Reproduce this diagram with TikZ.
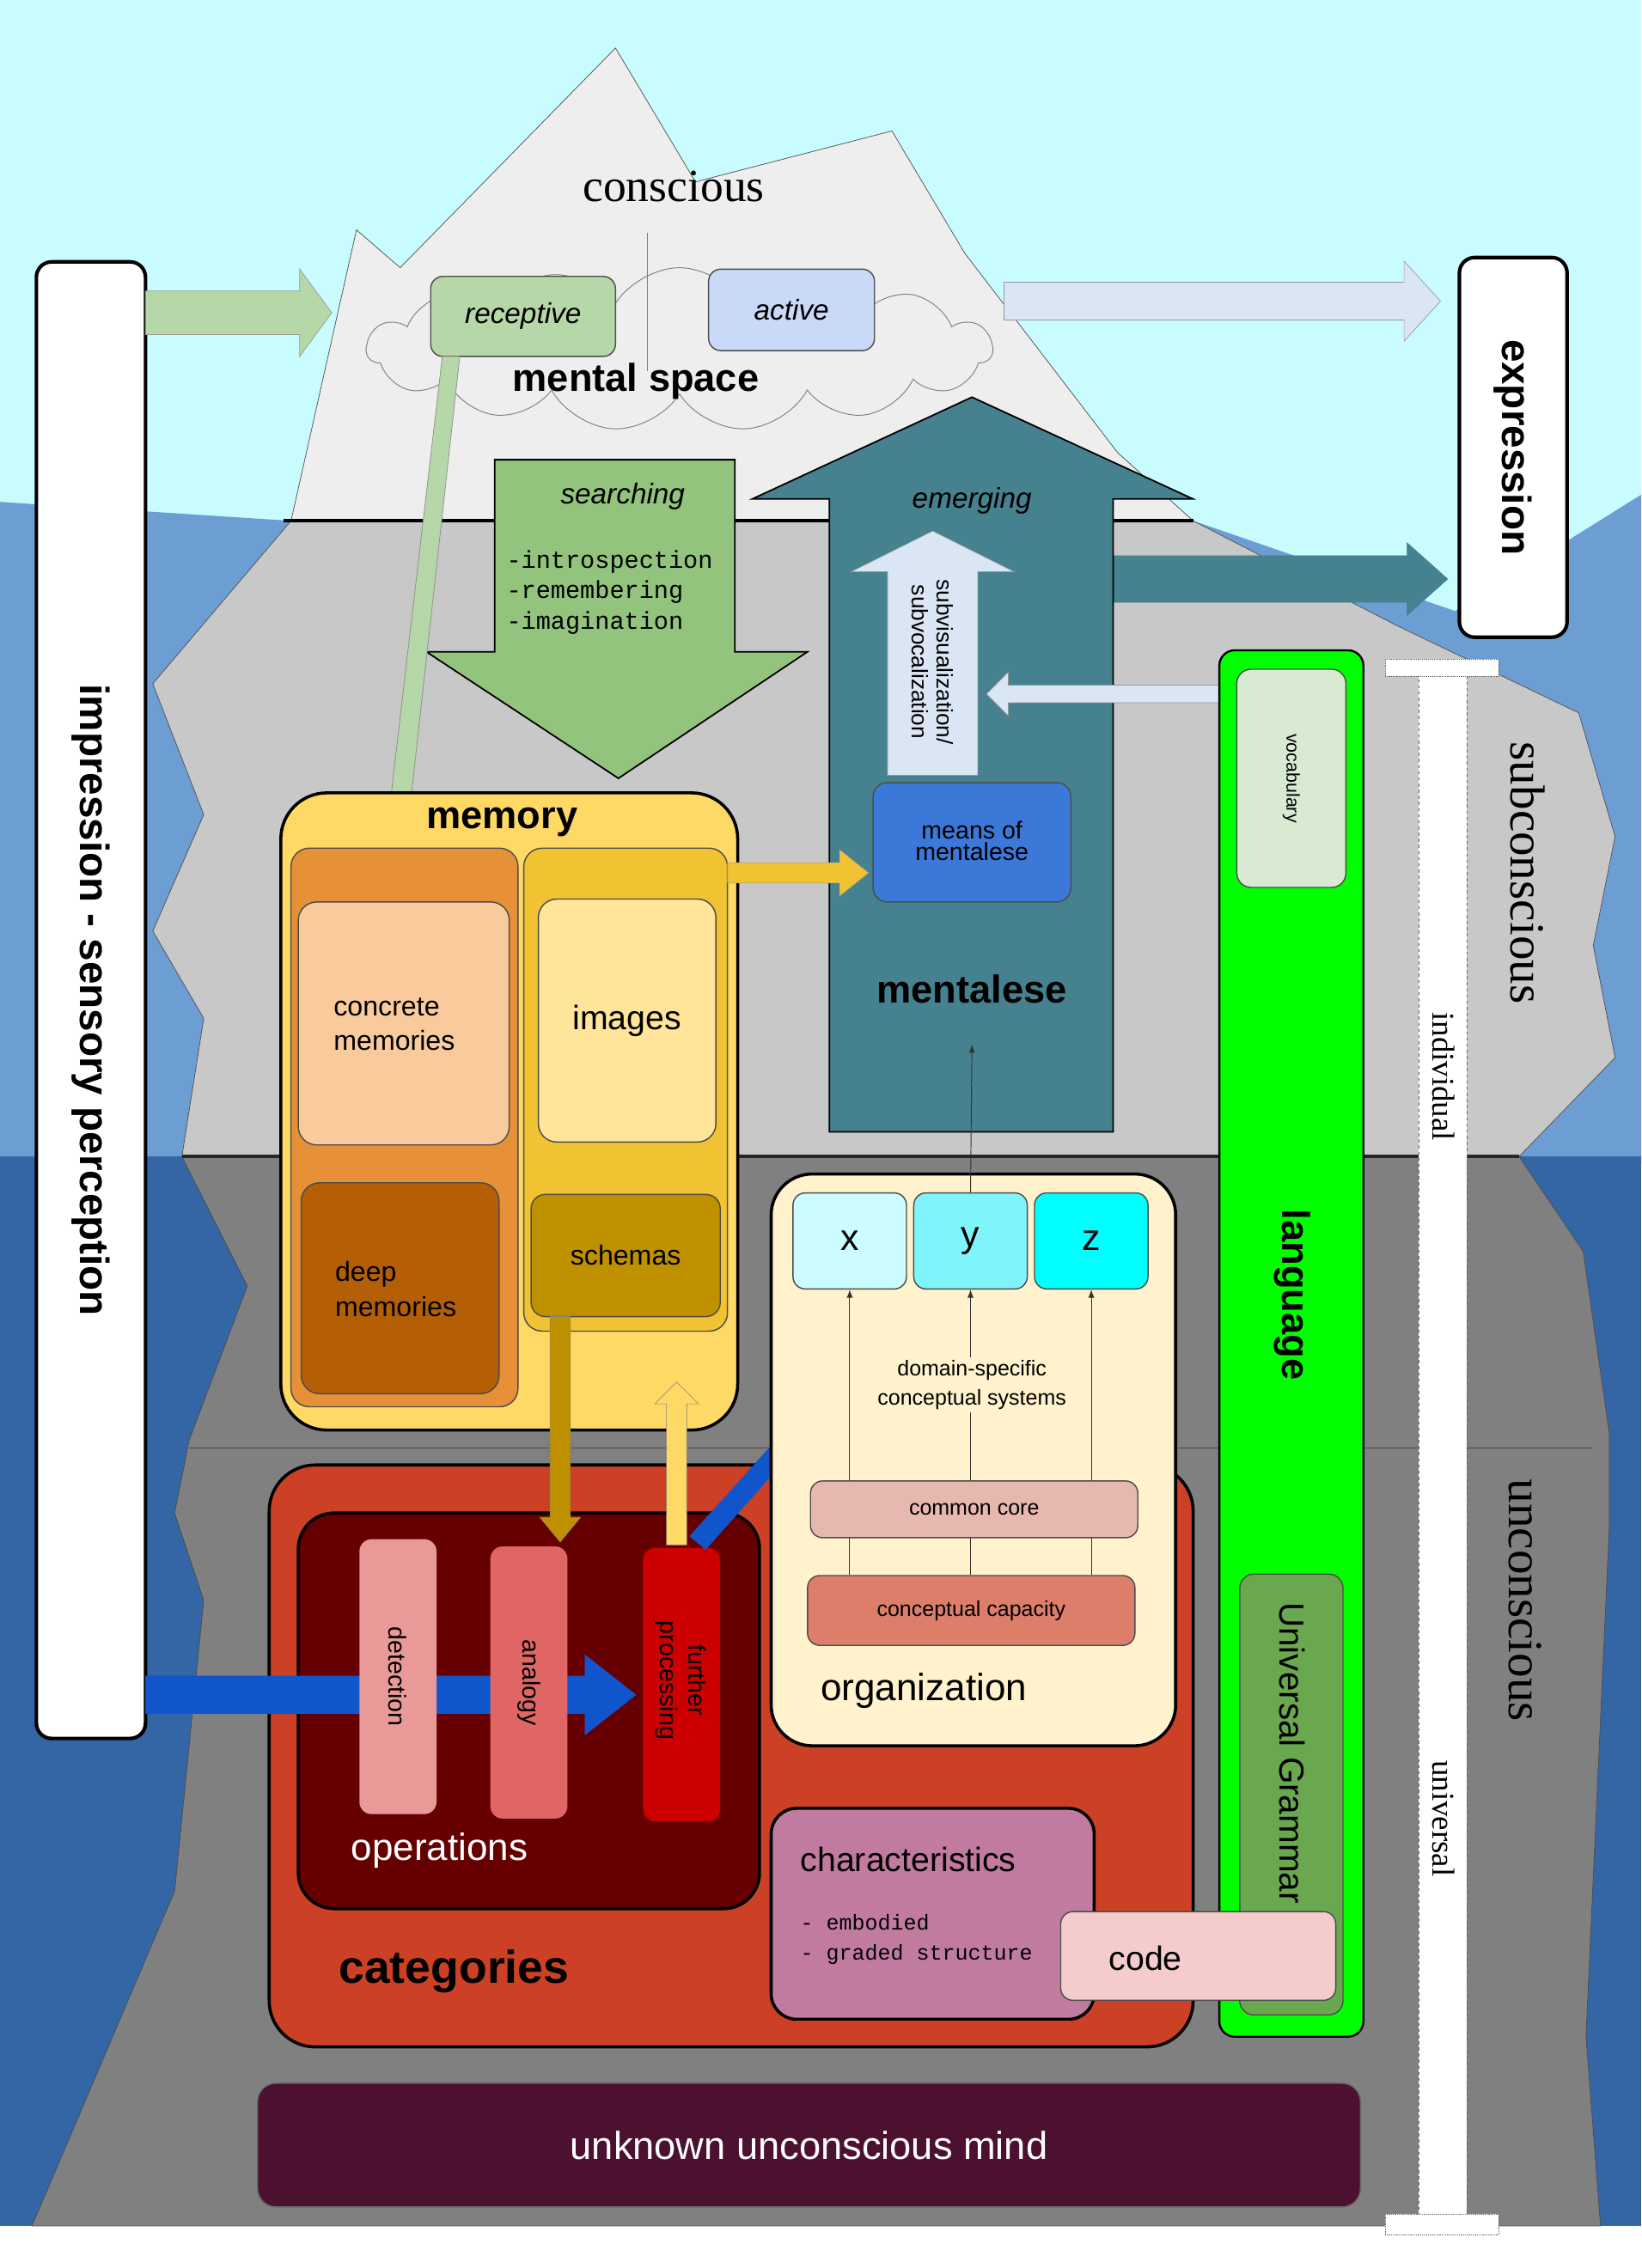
\documentclass[tikz,border=0pt]{standalone}
\usepackage{fontspec}
\setmainfont{Liberation Serif}
\setsansfont{Liberation Sans}
\setmonofont{Liberation Mono}
\usetikzlibrary{shapes.symbols,arrows.meta}
\definecolor{sky}{HTML}{C9FCFF}
\definecolor{sealight}{HTML}{6D9ED3}
\definecolor{seadark}{HTML}{3465A4}
\definecolor{icetop}{HTML}{EEEEEE}
\definecolor{icemid}{HTML}{C8C8C8}
\definecolor{icelow}{HTML}{808080}
\definecolor{lgreen}{HTML}{B6D7A8}
\definecolor{mgreen}{HTML}{93C47D}
\definecolor{lblue}{HTML}{DAE6F4}
\definecolor{actblue}{HTML}{C9DAF8}
\definecolor{teal}{HTML}{45818E}
\definecolor{meanblue}{HTML}{3C78D8}
\definecolor{memy}{HTML}{FFD966}
\definecolor{orcol}{HTML}{E69138}
\definecolor{concr}{HTML}{F9CB9C}
\definecolor{deep}{HTML}{B45F06}
\definecolor{ycol}{HTML}{F1C232}
\definecolor{imgc}{HTML}{FFE599}
\definecolor{schem}{HTML}{BF9000}
\definecolor{orgc}{HTML}{FFF2CC}
\definecolor{xc}{HTML}{CCFCFF}
\definecolor{yc}{HTML}{7FF5FB}
\definecolor{zc}{HTML}{00FFFF}
\definecolor{ccore}{HTML}{E6B8AF}
\definecolor{ccap}{HTML}{DD7E6B}
\definecolor{catc}{HTML}{CC4125}
\definecolor{opc}{HTML}{660000}
\definecolor{detc}{HTML}{EA9999}
\definecolor{anac}{HTML}{E06666}
\definecolor{furc}{HTML}{CC0000}
\definecolor{bluea}{HTML}{1155CC}
\definecolor{charc}{HTML}{C27BA0}
\definecolor{codec}{HTML}{F4CCCC}
\definecolor{langc}{HTML}{00FF00}
\definecolor{vocc}{HTML}{D9EAD3}
\definecolor{ugc}{HTML}{6AA84F}
\definecolor{unkc}{HTML}{4C1130}
\newcommand\fsz[2]{\fontsize{#1pt}{#2pt}\selectfont}
\newcommand\bx[7]{\node[#6, minimum width={(#4-#2)*0.05cm}, minimum height={(#5-#3)*0.05cm}] (#1) at ({(#2+#4)/2},{(#3+#5)/2}) {#7};}
\newcommand\harrow[7]{\filldraw[#7] (#1,{#3-#4/2}) -- ({#2-#6},{#3-#4/2}) -- ({#2-#6},{#3-#5/2}) -- (#2,#3) -- ({#2-#6},{#3+#5/2}) -- ({#2-#6},{#3+#4/2}) -- (#1,{#3+#4/2}) -- cycle;}
\begin{document}
\begin{tikzpicture}[x=0.05cm,y=-0.05cm,
  every node/.style={font=\sffamily, inner sep=0pt},
  box/.style={draw=black!70, line width=1.2pt, rounded corners=12pt},
  bigbox/.style={draw=black, line width=3pt, rounded corners=45pt},
  lab/.style={font=\sffamily},
  thinarr/.style={-{Latex[length=8pt,width=6pt]}, line width=0.8pt, black!80}]
\useasboundingbox (0,0) rectangle (1128,1559);
\fill[white] (0,0) rectangle (1128,1559);
% background
\fill[sky] (0,0) rectangle (1128,1530);
\fill[sealight] (0,345) -- (200,358) -- (820,358) -- (1000,420) -- (1128,340) -- (1128,800) -- (0,800) -- cycle;
\fill[seadark] (0,795) rectangle (1128,1530);
% iceberg
\filldraw[icetop, draw=black!70, line width=0.6pt] (200,358) -- (245,158) -- (275,184) -- (423,33) -- (478,125) -- (613,90) -- (663,174) -- (768,311) -- (820,358) -- cycle;
\filldraw[icemid, draw=black!70, line width=0.6pt] (200,358) -- (105,470) -- (140,560) -- (105,640) -- (140,700) -- (125,795) -- (1044,795) -- (1110,727) -- (1095,650) -- (1110,575) -- (1085,490) -- (960,430) -- (820,358) -- cycle;
\filldraw[icelow, draw=black!70, line width=0.6pt] (125,795) -- (170,884) -- (130,990) -- (120,1040) -- (140,1100) -- (120,1300) -- (22,1530) -- (1100,1530) -- (1090,1400) -- (1106,1050) -- (1106,985) -- (1088,860) -- (1044,795) -- cycle;
\draw[line width=3pt] (195,358) -- (820,358);
\draw[line width=3pt, black!85] (125,795) -- (1044,795);
\draw[line width=0.6pt, black!70] (130,995) -- (1095,995);
\node[font=\rmfamily\fsz{45}{50}] (conscious) at (463,128) {conscious};
% cloud
\node[cloud, cloud puffs=15, cloud puff arc=120, aspect=3.7, draw=black!50, line width=0.8pt, fill=icetop, minimum width=21.5cm, minimum height=5.6cm] (cloud) at (467,240) {};
\draw[black!50, line width=0.8pt] (445,160) -- (445,255);
\node[font=\sffamily\bfseries\fsz{38}{40}] (ms) at (437,262) {mental space};
\bx{receptive}{296}{190}{423}{245}{box, fill=lgreen}{\itshape\fsz{28}{30}receptive}
\bx{active}{487}{185}{601}{241}{box, fill=actblue}{\itshape\fsz{28}{30}active}
% left and right boxes
\bx{impr}{25}{180}{100}{1195}{draw=black, line width=3.5pt, rounded corners=15pt, fill=white}{}
\node[rotate=-90, font=\sffamily\bfseries\fsz{40}{42}] (imprt) at (impr) {impression - sensory perception};
\bx{expr}{1003}{177}{1077}{438}{draw=black, line width=3.5pt, rounded corners=15pt, fill=white}{}
\node[rotate=-90, font=\sffamily\bfseries\fsz{40}{42}] (exprt) at (expr) {expression};
% block arrows
\harrow{100}{228}{215}{30}{60}{22}{fill=lgreen, draw=black!40, line width=0.6pt}
\harrow{690}{990}{207}{26}{55}{25}{fill=lblue, draw=black!40, line width=0.6pt}
\harrow{765}{995}{398}{32}{50}{28}{fill=teal, draw=teal}
% searching arrow
\filldraw[fill=mgreen, draw=black, line width=1.5pt] (340,316) -- (505,316) -- (505,448) -- (555,448) -- (425,535) -- (293,448) -- (340,448) -- cycle;
\node[font=\sffamily\itshape\fsz{28}{30}] (searching) at (428,341) {searching};
\node[font=\ttfamily\fsz{24}{30}, align=left, anchor=north west] (search list) at (348,378) {-introspection\\-remembering\\-imagination};
% emerging arrow
\filldraw[fill=teal, draw=black, line width=1.5pt] (570,778) -- (570,343) -- (517,343) -- (668,273) -- (820,343) -- (765,343) -- (765,778) -- cycle;
\node[font=\sffamily\itshape\fsz{28}{30}] (emerging) at (668,344) {emerging};
\node[font=\sffamily\bfseries\fsz{38}{40}] (mentalese) at (668,680) {mentalese};
\coordinate (mtip) at (668,718);
% subvis arrow
\filldraw[fill=lblue, draw=black!40, line width=0.6pt] (610,533) -- (610,393) -- (585,393) -- (641,365) -- (697,393) -- (672,393) -- (672,533) -- cycle;
\node[rotate=-90, align=center, font=\sffamily\fsz{22}{25}] (subvis) at (641,455) {subvisualization/\\subvocalization};
\harrow{848}{678}{477}{12}{30}{-15}{fill=lblue, draw=black!40, line width=0.6pt}
\bx{means}{600}{538}{736}{620}{box, fill=meanblue, rounded corners=14pt}{\begin{tabular}{c}\fsz{24}{27}means of\\\fsz{24}{27}mentalese\end{tabular}}
% receptive -> concrete arrow
\filldraw[fill=lgreen, draw=black!45, line width=0.6pt] (316,245) -- (279,580) -- (286,581) -- (269,598) -- (257,578) -- (265,579) -- (304,245) -- cycle;
% memory
\bx{memory}{193}{545}{507}{983}{bigbox, fill=memy}{}
\node[font=\sffamily\bfseries\fsz{38}{40}] (memt) at (345,565) {memory};
\bx{orcolb}{200}{583}{356}{967}{box, fill=orcol, rounded corners=18pt}{}
\bx{concrete}{205}{620}{350}{787}{box, fill=concr, rounded corners=18pt}{}
\node[align=left, font=\sffamily\fsz{27}{34}] (concretet) at (271,704) {concrete\\memories};
\bx{deep}{207}{813}{343}{958}{box, fill=deep, rounded corners=18pt}{}
\node[align=left, font=\sffamily\fsz{27}{34}] (deept) at (272,886) {deep\\memories};
\bx{ycolb}{360}{583}{500}{915}{box, fill=ycol, rounded corners=18pt}{}
\bx{images}{370}{618}{492}{785}{box, fill=imgc, rounded corners=18pt}{\fsz{33}{35}images}
\bx{schemas}{365}{821}{495}{905}{box, fill=schem, rounded corners=14pt}{\fsz{27}{30}schemas}
\harrow{500}{597}{600}{14}{32}{20}{fill=ycol, draw=black!40, line width=0.5pt}
% categories
\bx{categories}{185}{1007}{820}{1407}{bigbox, fill=catc}{}
\node[font=\sffamily\bfseries\fsz{45}{48}] (catt) at (312,1355) {categories};
\bx{operations}{205}{1040}{522}{1312}{bigbox, fill=opc, rounded corners=35pt}{}
\node[text=white, font=\sffamily\fsz{37}{40}] (opt) at (302,1272) {operations};
\harrow{100}{437}{1165}{26}{55}{35}{fill=bluea, draw=bluea}
\bx{detection}{247}{1058}{300}{1247}{box, draw=none, fill=detc}{}
\node[rotate=-90, font=\sffamily\fsz{24}{26}] (dett) at (detection) {detection};
\bx{analogy}{337}{1063}{390}{1250}{box, draw=none, fill=anac}{}
\node[rotate=-90, font=\sffamily\fsz{24}{26}] (anat) at (analogy) {analogy};
\bx{further}{442}{1064}{495}{1252}{box, draw=none, fill=furc}{}
\node[rotate=-90, align=center, font=\sffamily\fsz{24}{28}] (furt) at (468,1155) {further\\processing};
% memory <-> categories arrows
\filldraw[fill=schem, draw=black!50, line width=0.5pt] (378,905) -- (392,905) -- (392,1043) -- (399,1043) -- (385,1060) -- (371,1043) -- (378,1043) -- cycle;
\filldraw[fill=memy, draw=black!50, line width=0.5pt] (458,1062) -- (458,965) -- (450,965) -- (465,950) -- (480,965) -- (472,965) -- (472,1062) -- cycle;
\filldraw[fill=bluea, draw=bluea] (474,1056) -- (547,975) -- (541,970) -- (565,965) -- (563,990) -- (557,984) -- (485,1065) -- cycle;
% organization
\bx{organization}{530}{807}{808}{1200}{bigbox, fill=orgc, rounded corners=40pt}{}
\node[font=\sffamily\fsz{37}{40}] (orgt) at (635,1162) {organization};
\bx{x}{545}{820}{623}{886}{box, fill=xc}{\fsz{36}{38}x}
\bx{y}{628}{820}{706}{886}{box, fill=yc}{\fsz{36}{38}y}
\bx{z}{711}{820}{789}{886}{box, fill=zc}{\fsz{36}{38}z}
\bx{cap}{555}{1083}{780}{1131}{box, fill=ccap}{\fsz{21}{23}conceptual capacity}
\draw[thinarr] (cap.north -| x.south) -- (x.south);
\draw[thinarr] (cap.north -| y.south) -- (y.south);
\draw[thinarr] (cap.north -| z.south) -- (z.south);
\draw[thinarr] (y.north) -- (mtip);
\node[fill=orgc, inner sep=3pt, align=center, font=\sffamily\fsz{21}{28}] (domain) at (668,952) {domain-specific\\conceptual systems};
\bx{core}{557}{1018}{782}{1057}{box, fill=ccore}{\fsz{21}{23}common core}
% language
\bx{language}{838}{447}{937}{1400}{box, draw=black, line width=2pt, fill=langc, rounded corners=15pt}{}
\node[rotate=-90, font=\sffamily\bfseries\fsz{38}{40}] (langt) at (888,890) {language};
\bx{vocabulary}{850}{460}{925}{610}{box, fill=vocc, rounded corners=14pt}{}
\node[rotate=-90, font=\sffamily\fsz{18}{20}] (voct) at (vocabulary) {vocabulary};
\bx{ug}{852}{1082}{923}{1385}{box, fill=ugc, rounded corners=14pt}{}
\node[rotate=-90, font=\sffamily\fsz{34}{36}] (ugt) at (888,1205) {Universal Grammar};
% characteristics & code
\bx{char}{530}{1243}{752}{1388}{bigbox, fill=charc, rounded corners=25pt}{}
\node[anchor=west, font=\sffamily\fsz{33}{35}] (chart) at (550,1278) {characteristics};
\node[anchor=north west, align=left, font=\ttfamily\fsz{21}{29}] (charl) at (550,1316) {- embodied\\- graded structure};
\bx{code}{729}{1314}{918}{1375}{box, fill=codec}{}
\node[anchor=west, font=\sffamily\fsz{33}{35}] (codet) at (762,1346) {code};
% individual / universal bar
\bx{bar}{975}{460}{1008}{1530}{draw=black!60, dashed, line width=0.5pt, fill=white}{}
\bx{barcap}{952}{453}{1030}{465}{draw=black!60, densely dotted, line width=0.5pt, fill=white}{}
\bx{barcapb}{952}{1522}{1030}{1536}{draw=black!60, densely dotted, line width=0.5pt, fill=white}{}
\node[rotate=-90, font=\rmfamily\fsz{31}{33}] (indiv) at (992,740) {individual};
\node[rotate=-90, font=\rmfamily\fsz{31}{33}] (univ) at (992,1250) {universal};
\node[rotate=-90, font=\rmfamily\fsz{48}{50}] (subc) at (1050,600) {subconscious};
\node[rotate=-90, font=\rmfamily\fsz{48}{50}] (unc) at (1048,1100) {unconscious};
% unknown
\bx{unknown}{177}{1432}{935}{1517}{box, draw=black!60, fill=unkc, rounded corners=18pt}{}
\node[text=white, font=\sffamily\fsz{38}{40}] (unkt) at (unknown) {unknown unconscious mind};
\end{tikzpicture}
\end{document}
